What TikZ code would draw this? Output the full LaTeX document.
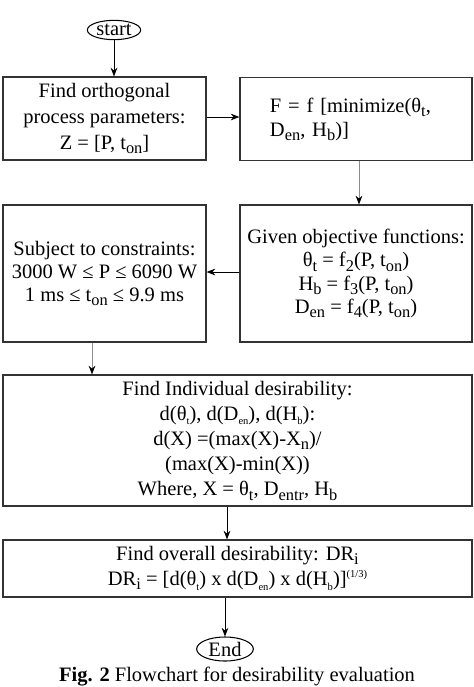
\documentclass[tikz,border=0pt]{standalone}
\usepackage{fontspec}
\setmainfont{Liberation Serif}
\usepackage{xcolor}
\usetikzlibrary{arrows.meta, calc, positioning, shapes.geometric}
\newcommand{\bsub}[1]{\raisebox{-0.45ex}{\fontsize{14}{14}\selectfont #1}}
\newcommand{\ssub}[1]{\raisebox{-0.5ex}{\fontsize{9}{9}\selectfont #1}}
\tikzset{
    flowbox/.style={rectangle, draw=black!80, line width=1pt, align=center,
        inner sep=0pt, font=\fontsize{17.5}{19.8}\selectfont},
    term/.style={ellipse, draw=black, line width=0.9pt, inner sep=0pt,
        font=\fontsize{17.5}{22}\selectfont},
    arrow/.style={-{Stealth[length=2.6mm, width=2mm]}, line width=0.7pt},
    greyarrow/.style={arrow, black!45, -{Stealth[length=2.6mm, width=2mm, black]}},
}

\begin{document}
\begin{tikzpicture}[x=0.03cm, y=-0.03cm]
        \useasboundingbox (0,0) rectangle (474,687);
        \node[term, minimum width=1.6cm, minimum height=0.58cm] (start) at (114,30) {start};
        \node[flowbox, minimum width=6.09cm, minimum height=2.49cm,
            font=\fontsize{17.5}{22}\selectfont] (orth) at (104.5,118.5)
            {Find orthogonal\\process parameters:\\Z = [P, t\bsub{on}]};
        \node[flowbox, minimum width=6.96cm, minimum height=2.49cm, align=left,
            text width=5.16cm, font=\fontsize{17.5}{20.5}\selectfont] (minf) at (356,119)
            {F = f [minimize(θ\bsub{t},\\D\bsub{en}, H\bsub{b})]};
        \node[flowbox, minimum width=6.96cm, minimum height=4.11cm] (objf) at (356,273.5)
            {Given objective functions:\\θ\bsub{t} = f\bsub{2}(P, t\bsub{on})\\H\bsub{b} = f\bsub{3}(P, t\bsub{on})\\D\bsub{en} = f\bsub{4}(P, t\bsub{on})};
        \node[flowbox, minimum width=6.09cm, minimum height=4.11cm] (cons) at (104.5,273.5)
            {Subject to constraints:\\3000 W ≤ P ≤ 6090 W\\1 ms ≤ t\bsub{on} ≤ 9.9 ms};
        \node[flowbox, minimum width=14.07cm, minimum height=3.93cm,
            font=\fontsize{17.5}{21.5}\selectfont] (indiv) at (237.5,440.5)
            {Find Individual desirability:\\d(θ\ssub{t}), d(D\ssub{en}), d(H\ssub{b}):\\d(X) =(max(X)-X\bsub{n})/\\(max(X)-min(X))\\Where, X = θ\bsub{t}, D\bsub{entr}, H\bsub{b}};
        \node[flowbox, minimum width=14.07cm, minimum height=1.71cm,
            font=\fontsize{17.5}{21}\selectfont] (overall) at (237.5,568.5)
            {Find overall desirability: DR\raisebox{-0.35ex}{\fontsize{14}{14}\selectfont i}\\DR\bsub{i} = [d(θ\ssub{t}) x d(D\ssub{en}) x d(H\ssub{b})]\raisebox{0.9ex}{\fontsize{9}{9}\selectfont (1/3)}};
        \node[term, minimum width=1.7cm, minimum height=0.72cm] (stop) at (225,649) {End};
        \node[anchor=south, font=\fontsize{17.5}{22}\selectfont, inner sep=1pt] (caption) at (237,687)
            {\textbf{Fig. 2} Flowchart for desirability evaluation};
        % connectors
        \draw[arrow] (start) -- (orth.north -| start);
        \draw[arrow] (orth.east |- 0,117) -- (minf.west |- 0,117);
        \draw[greyarrow] (minf.south -| 359,0) -- (objf.north -| 359,0);
        \draw[arrow] (objf.west |- 0,272) -- (cons.east |- 0,272);
        \draw[greyarrow] (cons.south -| 92,0) -- (indiv.north -| 92,0);
        \draw[arrow] (indiv.south -| 227,0) -- (overall.north -| 227,0);
        \draw[arrow] (overall.south -| stop) -- (stop);
    \end{tikzpicture}
\end{document}
